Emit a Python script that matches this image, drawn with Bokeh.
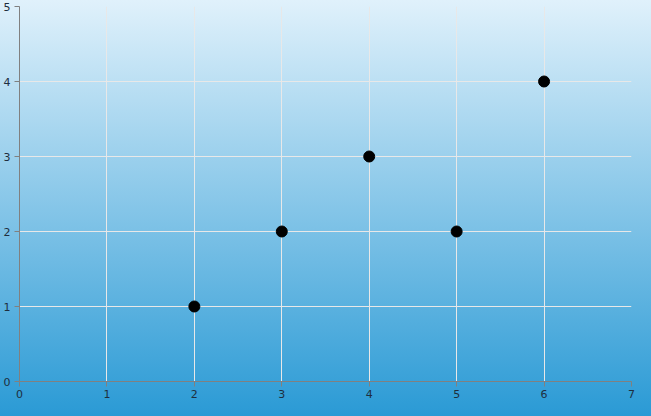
from bokeh.plotting import figure
from bokeh.embed import file_html
from bokeh.resources import INLINE
from bokeh.models import GlobalInlineStyleSheet, FixedTicker, Range1d

# data
xs = [2, 3, 4, 5, 6]
ys = [1, 2, 3, 2, 4]
x_ticks = [0, 1, 2, 3, 4, 5, 6, 7]
y_ticks = [0, 1, 2, 3, 4, 5]

bg = GlobalInlineStyleSheet(css="""
html { min-height: 100%; background: linear-gradient(to bottom, #e0f1fb 0%, #2a9ad5 100%) fixed; }
body { background: transparent; }
""")

p = figure(width=635, height=400, output_backend="svg", toolbar_location=None,
           x_range=Range1d(0, 7), y_range=Range1d(0, 5),
           stylesheets=[bg])
p.background_fill_alpha = 0
p.border_fill_alpha = 0
p.outline_line_color = None
p.min_border_left = 12
p.min_border_right = 4
p.min_border_top = 6
p.min_border_bottom = 0

for ax, t in ((p.xaxis, x_ticks), (p.yaxis, y_ticks)):
    ax.ticker = FixedTicker(ticks=t)
    ax.axis_line_color = "#808080"
    ax.major_tick_line_color = "#808080"
    ax.major_tick_out = 5
    ax.major_tick_in = 0
    ax.minor_tick_line_color = None
    ax.major_label_text_font = "DejaVu Sans"
    ax.major_label_text_font_size = "11px"
    ax.major_label_text_color = "#1e2e3e"
    ax.major_label_standoff = 4
p.xaxis.major_label_standoff = 3

p.xgrid.ticker = FixedTicker(ticks=x_ticks)
p.ygrid.ticker = FixedTicker(ticks=y_ticks)
p.grid.grid_line_color = "#e8e8e8"
p.grid.grid_line_width = 1

p.scatter(xs, ys, size=11, fill_color="black", line_color="black")

open("out.html", "w").write(file_html(p, INLINE))
